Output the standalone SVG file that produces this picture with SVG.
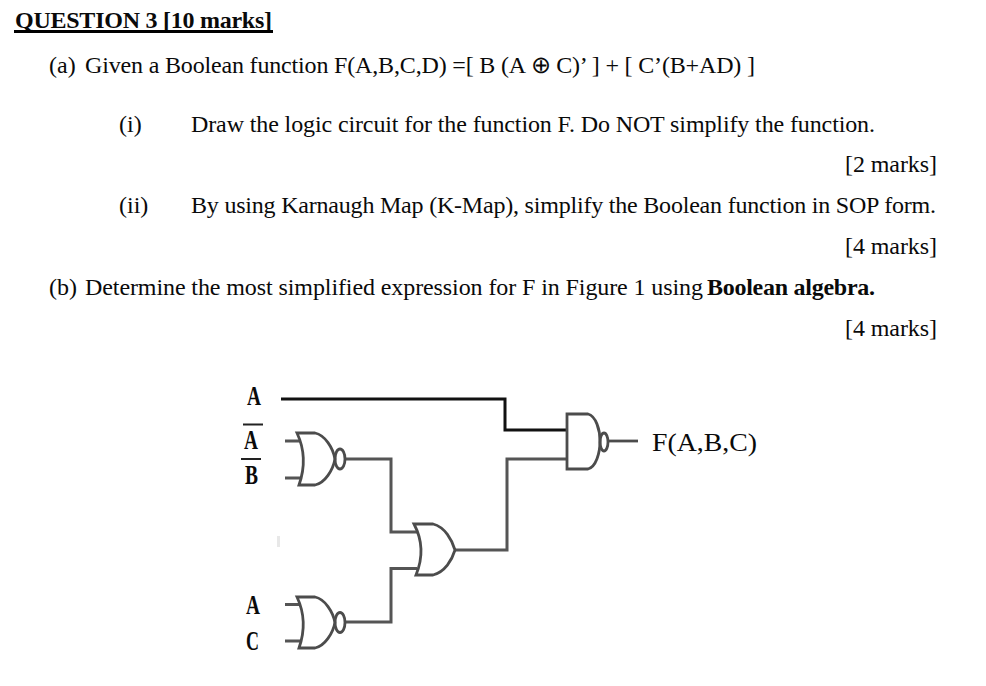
<svg xmlns="http://www.w3.org/2000/svg" width="986" height="686" viewBox="0 0 986 686">
<style>
text{font-family:"Liberation Serif","Times New Roman",serif;fill:#0a0a0a}
.t{font-size:24px}
.b{font-weight:bold}
.l{font-size:28px;font-weight:bold}
.g{fill:none;stroke:#4c4c4c;stroke-width:2.8}
.w{fill:none;stroke:#555;stroke-width:3}
.k{fill:none;stroke:#111;stroke-width:3}
</style>
<rect width="986" height="686" fill="#fff"/>
<g id="text">
<text x="15" y="27.500" class="t b" textLength="257">QUESTION 3 [10 marks]</text>
<rect x="14" y="30" width="259" height="3" fill="#000"/>
<text x="49" y="73" class="t">(a)</text>
<text x="85" y="73" class="t" textLength="670">Given a Boolean function F(A,B,C,D) =[ B (A ⊕ C)’ ] + [ C’(B+AD) ]</text>
<text x="119" y="132" class="t">(i)</text>
<text x="191" y="132" class="t" textLength="684">Draw the logic circuit for the function F. Do NOT simplify the function.</text>
<text x="845" y="172" class="t" textLength="92">[2 marks]</text>
<text x="119" y="213" class="t">(ii)</text>
<text x="191" y="213" class="t" textLength="745">By using Karnaugh Map (K-Map), simplify the Boolean function in SOP form.</text>
<text x="845" y="254" class="t" textLength="92">[4 marks]</text>
<text x="49" y="295" class="t">(b)</text>
<text x="85" y="295" class="t" textLength="618">Determine the most simplified expression for F in Figure 1 using</text>
<text x="707" y="295" class="t b" textLength="168">Boolean algebra.</text>
<text x="845" y="336" class="t" textLength="92">[4 marks]</text>
</g>
<g id="labels">
<text x="247" y="405" class="l" textLength="14" lengthAdjust="spacingAndGlyphs">A</text>
<path d="M243 424.500H263M241 459H261" stroke="#222" stroke-width="2" fill="none"/>
<text x="244" y="449" class="l" textLength="14" lengthAdjust="spacingAndGlyphs">A</text>
<text x="245" y="484" class="l" textLength="13" lengthAdjust="spacingAndGlyphs">B</text>
<text x="246" y="614" class="l" textLength="14" lengthAdjust="spacingAndGlyphs">A</text>
<text x="246" y="650" class="l" textLength="13" lengthAdjust="spacingAndGlyphs">C</text>
<text x="652" y="451" font-size="26" textLength="105" lengthAdjust="spacingAndGlyphs">F(A,B,C)</text>
</g>
<rect x="277" y="536" width="3" height="11" fill="#e8e8e8"/>
<g id="connectors">
<path class="k" d="M281 399H505V430H567"/>
<path class="w" d="M345 459H391V532H417"/>
<path class="w" d="M345 622H391V568.500H417"/>
<path class="w" d="M455 550H507V459H567"/>
<path class="g" d="M609 441H638"/>
<path class="w" d="M285 441H301M285 478H301M285 604.500H301M285 641H301"/>
</g>
<g id="nor1">
<path class="g" d="M297 433H315C325 435 333 448 335 459C333 470 325 483 315 485H299C305 468 305 450 297 433Z"/>
<ellipse class="g" cx="340" cy="459" rx="5" ry="10"/>
</g>
<g id="nor2">
<path class="g" d="M297 597H315C325 599 333 612 335 622.500C333 633 325 646 315 648H299C305 631 305 614 297 597Z"/>
<ellipse class="g" cx="340" cy="622.500" rx="5" ry="10"/>
</g>
<g id="or1">
<path class="g" d="M414 524H433C445 527 452 540 455 550C452 560 445 572 433 575H416C423 558 423 541 414 524Z"/>
</g>
<g id="nand1">
<path class="g" d="M567 414H588C596 416 600 430 600 441C600 453 596 467 588 469H567Z"/>
<ellipse class="g" cx="604" cy="442" rx="4" ry="9"/>
</g>
</svg>
